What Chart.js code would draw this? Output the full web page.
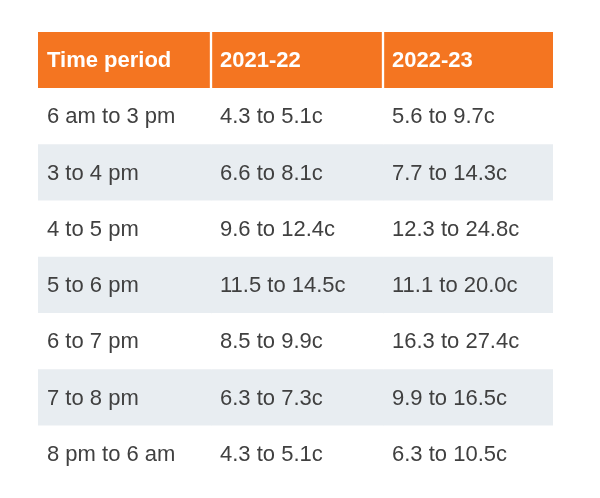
<!DOCTYPE html>
<html>
<head>
<meta charset="utf-8">
<script src="https://cdn.jsdelivr.net/npm/chart.js@4"></script>
<style>
  html, body { margin: 0; padding: 0; background: #fff; }
  #wrap { width: 600px; height: 498px; }
</style>
</head>
<body>
<div id="wrap"><canvas id="tbl"></canvas></div>
<script>
// table content
var headers = ['Time period', '2021-22', '2022-23'];
var periods = ['6 am to 3 pm', '3 to 4 pm', '4 to 5 pm', '5 to 6 pm', '6 to 7 pm', '7 to 8 pm', '8 pm to 6 am'];
var prices2122 = ['4.3 to 5.1c', '6.6 to 8.1c', '9.6 to 12.4c', '11.5 to 14.5c', '8.5 to 9.9c', '6.3 to 7.3c', '4.3 to 5.1c'];
var prices2223 = ['5.6 to 9.7c', '7.7 to 14.3c', '12.3 to 24.8c', '11.1 to 20.0c', '16.3 to 27.4c', '9.9 to 16.5c', '6.3 to 10.5c'];

// column boundaries in x-scale units
var colEdges = [0, 173, 345, 515];
var rows = [headers].concat(periods.map(function (p, i) { return [p, prices2122[i], prices2223[i]]; }));
var labels = rows.map(function (r, i) { return 'r' + i; });

function rowColor(i) {
  if (i === 0) return '#F47521';
  return (i % 2 === 0) ? '#E8EDF1' : '#FFFFFF';
}

var datasets = [0, 1, 2].map(function (c) {
  return {
    label: headers[c],
    data: rows.map(function (r, i) {
      var gap = i === 0 ? 1.5 : 0;
      return [colEdges[c] + (c > 0 ? gap : 0), colEdges[c + 1] - (c < 2 ? gap : 0)];
    }),
    backgroundColor: rows.map(function (r, i) { return rowColor(i); }),
    borderWidth: 0,
    barPercentage: 1,
    categoryPercentage: 1,
    grouped: false
  };
});

var cellText = {
  id: 'cellText',
  afterDatasetsDraw: function (chart) {
    var ctx = chart.ctx, xs = chart.scales.x, ys = chart.scales.y;
    ctx.save();
    ctx.textBaseline = 'middle';
    ctx.textAlign = 'left';
    rows.forEach(function (r, i) {
      var y = ys.getPixelForValue(i) + 1;
      ctx.font = (i === 0 ? 'bold ' : '') + '22px "Liberation Sans", Arial, sans-serif';
      ctx.fillStyle = i === 0 ? '#FFFFFF' : '#404040';
      r.forEach(function (t, c) {
        ctx.fillText(t, xs.getPixelForValue(colEdges[c]) + 9, y);
      });
    });
    ctx.restore();
  }
};

new Chart(document.getElementById('tbl'), {
  type: 'bar',
  data: { labels: labels, datasets: datasets },
  options: {
    indexAxis: 'y',
    responsive: true,
    maintainAspectRatio: false,
    animation: false,
    layout: { padding: { left: 38, right: 47, top: 32, bottom: 16 } },
    scales: {
      x: { type: 'linear', min: 0, max: 515, display: false },
      y: { type: 'category', display: false }
    },
    plugins: { legend: { display: false }, tooltip: { enabled: false } }
  },
  plugins: [cellText]
});
</script>
</body>
</html>
